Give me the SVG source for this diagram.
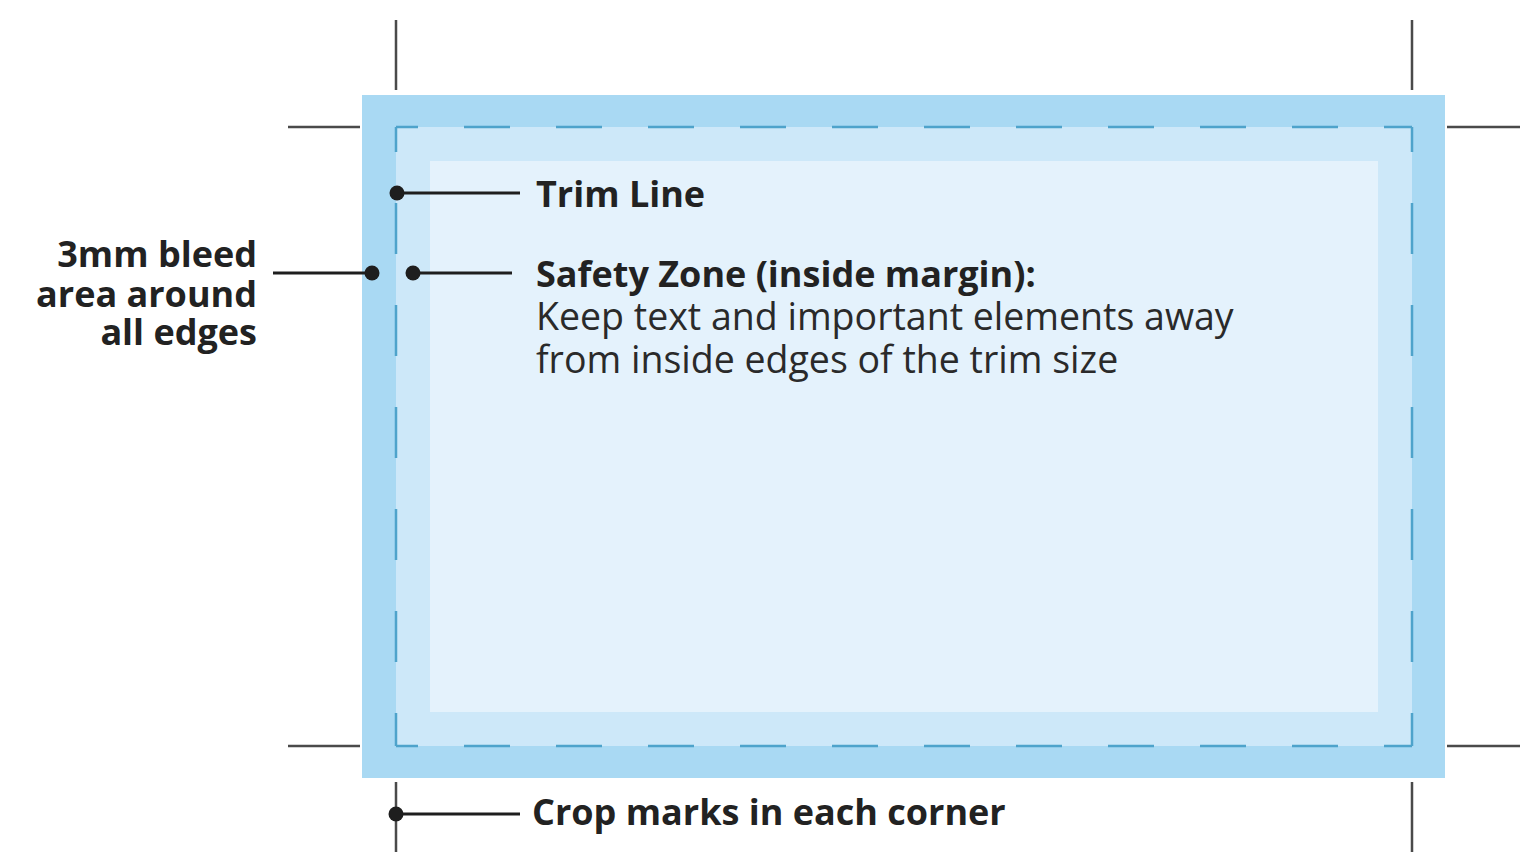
<svg xmlns="http://www.w3.org/2000/svg" width="1536" height="866" viewBox="0 0 1536 866">
<style>
.lbl{font-family:"Open Sans","Noto Sans","Liberation Sans",sans-serif;fill:#222;}
.b{font-weight:bold;font-size:36px;}
.r{font-size:37.5px;fill:#2a2a2a;}
.crop{stroke:#4a4a4a;stroke-width:2.5;fill:none;}
.lead{stroke:#1e1e1e;stroke-width:3;fill:none;}
.dot{fill:#1e1e1e;}
.trimh{stroke:#4ea3cb;stroke-width:2.5;fill:none;stroke-dasharray:46 46;stroke-dashoffset:24;}
.trimv{stroke:#4ea3cb;stroke-width:2.5;fill:none;stroke-dasharray:51 51;stroke-dashoffset:26;}
</style>
<rect width="1536" height="866" fill="#ffffff"/>
<g id="bleed-area">
<rect x="362" y="95" width="1083" height="683" fill="#a9d9f3"/>
</g>
<g id="trim-area">
<rect x="396" y="127" width="1016" height="619" fill="#cde8f9"/>
</g>
<g id="safety-zone">
<rect x="430" y="161" width="948" height="551" fill="#e4f2fc"/>
</g>
<g id="trim-line">
<path class="trimh" d="M396 127 H1412"/>
<path class="trimh" d="M396 746 H1412"/>
<path class="trimv" d="M396 127 V746"/>
<path class="trimv" d="M1412 127 V746"/>
</g>
<g id="crop-marks">
<path class="crop" d="M396 20 V90 M1412 20 V90 M396 782 V852 M1412 782 V852 M288 127 H360 M1447 127 H1520 M288 746 H360 M1447 746 H1520"/>
</g>
<g id="connectors">
<path class="lead" d="M397 193 H520"/>
<circle class="dot" cx="397" cy="193" r="7.5"/>
<path class="lead" d="M273 273 H372"/>
<circle class="dot" cx="372" cy="273" r="7.5"/>
<path class="lead" d="M413 273 H512"/>
<circle class="dot" cx="413" cy="273" r="7.5"/>
<path class="lead" d="M396 814 H520"/>
<circle class="dot" cx="396" cy="814" r="7.5"/>
</g>
<g id="label-trim">
<text class="lbl b" x="536" y="207">Trim Line</text>
</g>
<g id="label-safety">
<text class="lbl b" x="536" y="287">Safety Zone (inside margin):</text>
<text class="lbl r" x="536" y="330">Keep text and important elements away</text>
<text class="lbl r" x="536" y="373">from inside edges of the trim size</text>
</g>
<g id="label-bleed">
<text class="lbl b" x="257" y="267" text-anchor="end">3mm bleed</text>
<text class="lbl b" x="257" y="307" text-anchor="end">area around</text>
<text class="lbl b" x="257" y="345" text-anchor="end">all edges</text>
</g>
<g id="label-crop">
<text class="lbl b" x="532" y="825">Crop marks in each corner</text>
</g>
</svg>
